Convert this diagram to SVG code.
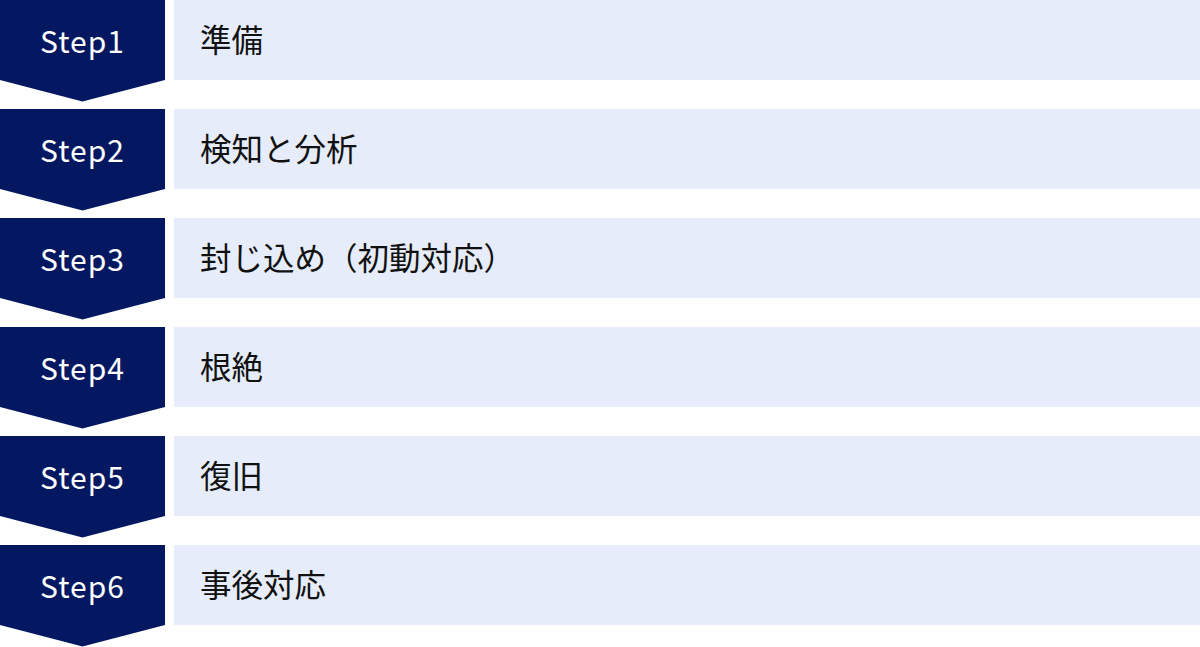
<svg xmlns="http://www.w3.org/2000/svg" width="1200" height="647" viewBox="0 0 1200 647">
<defs>
<style>
.chev{fill:#041861}
.bar{fill:#E6ECF9}
.step{font-family:"Noto Sans CJK JP","Noto Sans",sans-serif;font-size:30px;fill:#FFFFFF;text-anchor:middle;letter-spacing:1px}
.label{font-family:"Noto Sans CJK JP","Noto Sans",sans-serif;font-size:31.5px;fill:#111111}
</style>
<path id="chevShape" class="chev" d="M0 0H165V80L82.5 101.5L0 80Z"/>
</defs>
<rect width="1200" height="647" fill="#FFFFFF"/>
<g id="connectors"></g>
<g id="step1">
<use href="#chevShape"/>
<rect class="bar" x="174" y="0" width="1026" height="80"/>
<text class="step" x="82.5" y="52.5">Step1</text>
<text class="label" x="200" y="52">準備</text>
</g>
<g id="step2" transform="translate(0,109)">
<use href="#chevShape"/>
<rect class="bar" x="174" y="0" width="1026" height="80"/>
<text class="step" x="82.5" y="52.5">Step2</text>
<text class="label" x="200" y="52">検知と分析</text>
</g>
<g id="step3" transform="translate(0,218)">
<use href="#chevShape"/>
<rect class="bar" x="174" y="0" width="1026" height="80"/>
<text class="step" x="82.5" y="52.5">Step3</text>
<text class="label" x="200" y="52">封じ込め（初動対応）</text>
</g>
<g id="step4" transform="translate(0,327)">
<use href="#chevShape"/>
<rect class="bar" x="174" y="0" width="1026" height="80"/>
<text class="step" x="82.5" y="52.5">Step4</text>
<text class="label" x="200" y="52">根絶</text>
</g>
<g id="step5" transform="translate(0,436)">
<use href="#chevShape"/>
<rect class="bar" x="174" y="0" width="1026" height="80"/>
<text class="step" x="82.5" y="52.5">Step5</text>
<text class="label" x="200" y="52">復旧</text>
</g>
<g id="step6" transform="translate(0,545)">
<use href="#chevShape"/>
<rect class="bar" x="174" y="0" width="1026" height="80"/>
<text class="step" x="82.5" y="52.5">Step6</text>
<text class="label" x="200" y="52">事後対応</text>
</g>
</svg>
